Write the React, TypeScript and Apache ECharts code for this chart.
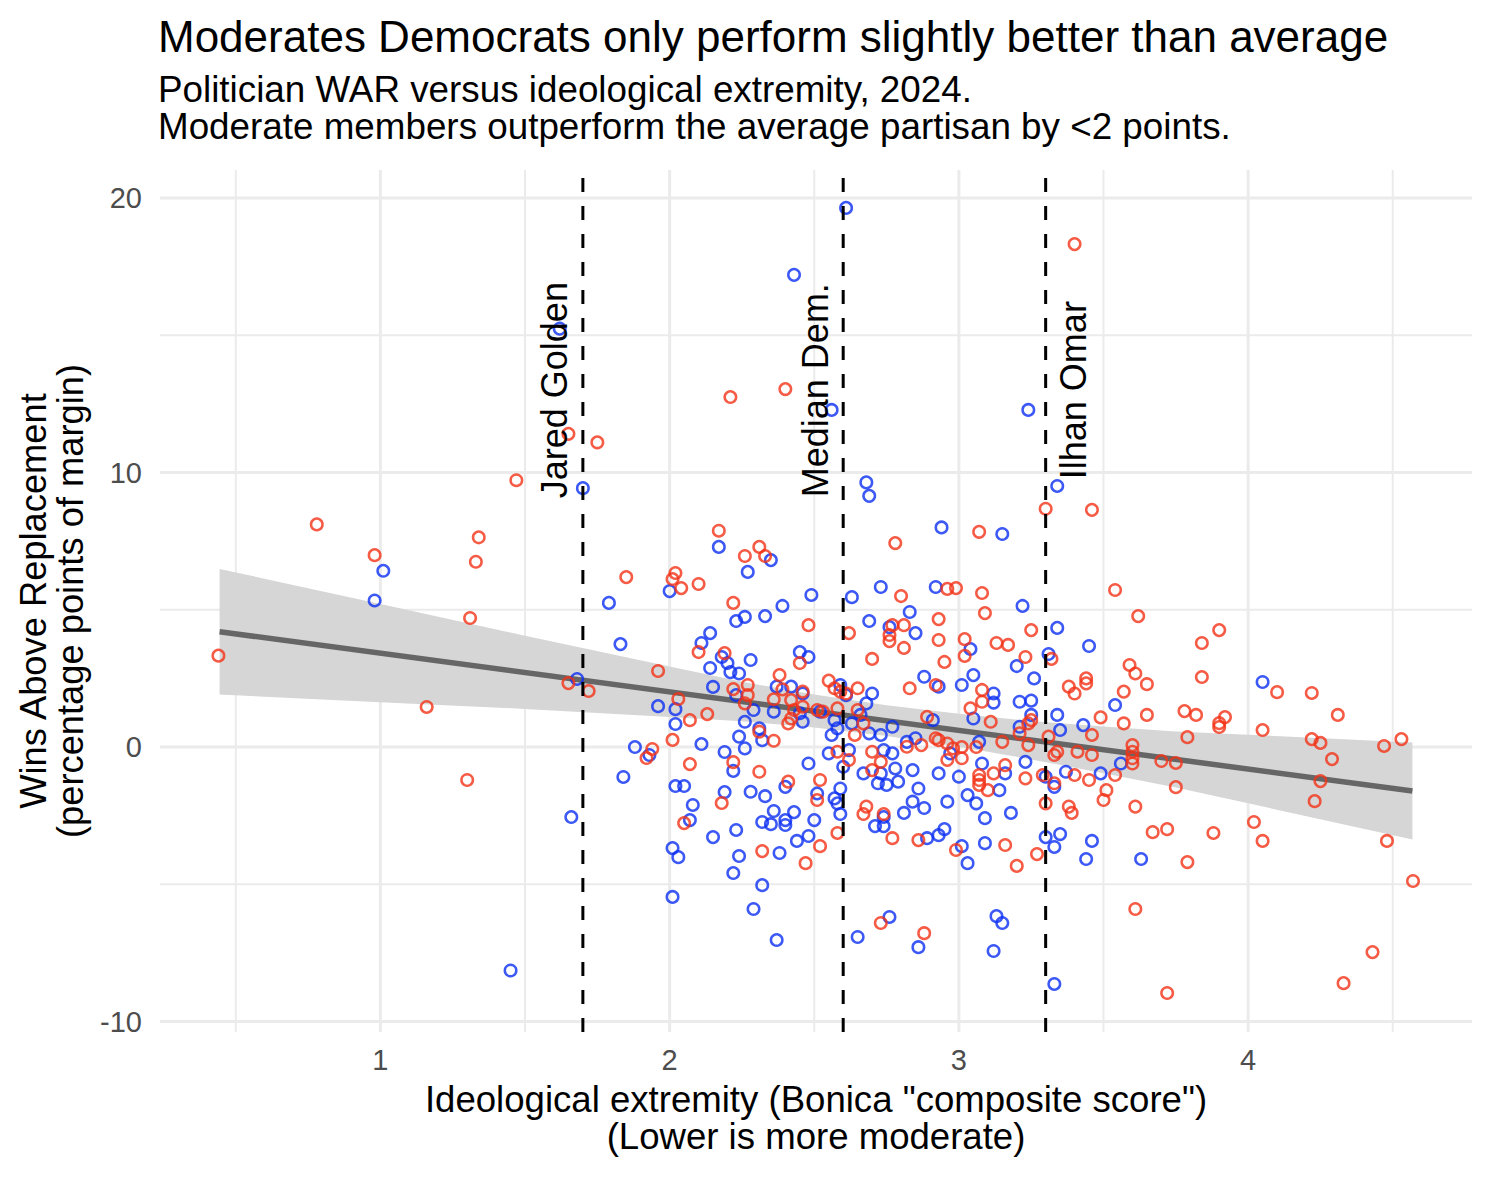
import React, { useEffect, useRef } from "react";
import * as echarts from "echarts";

const FONT = '"Liberation Sans", Arial, Helvetica, sans-serif';
const DEM_COLOR = "#0d30f2";
const REP_COLOR = "#f23216";

const X_MIN = 0.238;
const X_MAX = 4.774;
const Y_MIN = -10.38;
const Y_MAX = 21.02;

const xTickValues = [1, 2, 3, 4];
const xMinorValues = [0.5, 1.5, 2.5, 3.5, 4.5];
const yTickValues = [-10, 0, 10, 20];
const yMinorValues = [-5, 5, 15];

const titleText = "Moderates Democrats only perform slightly better than average";
const subtitleLines = [
  "Politician WAR versus ideological extremity, 2024.",
  "Moderate members outperform the average partisan by <2 points.",
];
const xTitleLines = ['Ideological extremity (Bonica "composite score")', "(Lower is more moderate)"];
const yTitleLines = ["Wins Above Replacement", "(percentage points of margin)"];

const refLineX = [1.7, 2.6, 3.3];
const refLineLabels = ["Jared Golden", "Median Dem.", "Ilhan Omar"];
const refLabelSide = [-1, -1, 1];
const refLabelY = 13;

// linear fit
const regX = [0.444, 4.568];
const regY = [4.2, -1.6];

// confidence band
const bandX = [0.444, 1.0, 1.5, 2.0, 2.25, 2.5, 2.75, 3.0, 3.25, 3.5, 3.75, 4.0, 4.568];
const bandUpper = [6.49, 5.21, 4.05, 2.93, 2.38, 1.91, 1.52, 1.21, 0.95, 0.75, 0.57, 0.45, 0.17];
const bandLower = [1.91, 1.63, 1.39, 1.09, 0.94, 0.71, 0.40, 0.01, -0.45, -0.95, -1.47, -2.05, -3.37];

const demPoints = [
  [2.17,7.29],[2.35,6.81],[2.27,6.38],[2.00,5.68],[1.79,5.25],[2.49,5.54],[2.63,5.46],[2.39,5.14],[2.26,4.74],[2.23,4.59],[2.33,4.77],[2.14,4.15],[2.11,3.79],[1.83,3.75],[2.18,3.28],[2.28,3.17],[2.45,3.46],[2.48,3.28],[2.20,3.06],[2.14,2.88],[2.21,2.73],[1.68,2.48],[2.15,2.19],[2.23,1.89],[1.96,1.49],[2.02,1.38],[2.02,0.84],[1.88,0.00],[1.93,-0.29],[2.11,0.11],[2.19,-0.18],
  [2.22,-0.87],[1.84,-1.09],[1.66,-2.55],[2.02,-1.42],[2.05,-1.42],[2.19,-1.64],[2.08,-2.11],[2.07,-2.66],[2.59,-2.44],[2.36,-2.33],[2.43,-2.37],[2.32,-2.73],[2.35,-2.81],[2.40,-2.66],[2.40,-2.84],[2.50,-2.66],[2.15,-3.28],[2.23,-3.02],[2.48,-3.24],[2.44,-3.42],[2.38,-3.86],[2.01,-3.68],[2.03,-4.01],[2.24,-3.97],[2.22,-4.59],[2.32,-5.03],[2.01,-5.46],[2.29,-5.90],[2.37,-7.03],[2.65,-6.92],
  [2.73,5.83],[2.92,5.83],[2.83,4.92],[3.22,5.14],[2.69,4.59],[2.76,4.37],[2.85,4.15],[3.34,4.34],[3.45,3.68],[3.04,3.57],[3.31,3.39],[3.20,2.95],
  [2.88,-2.22],[2.81,-2.40],[2.74,-2.55],[2.71,-2.88],[2.74,-2.88],[2.89,-3.32],[2.93,-3.21],[2.95,-2.99],[3.09,-2.59],[3.18,-2.40],[3.30,-3.28],[3.35,-3.17],[3.33,-3.64],[3.46,-3.42],[3.44,-4.08],[3.63,-4.08],[3.01,-3.61],[3.03,-4.23],[3.09,-3.50],[2.76,-6.19],[3.13,-6.16],[3.15,-6.41],[3.12,-7.43],[3.33,-8.63],[2.86,-7.29],
  [4.05,2.37],
  [2.61,19.64],[2.43,17.20],[1.62,15.24],[2.56,12.28],[3.24,12.28],[1.70,9.43],[2.68,9.64],[2.69,9.15],[3.34,9.51],[2.94,8.00],[3.15,7.76],
  [1.01,6.42],[0.98,5.34],[1.45,-8.14],
  [2.24,2.68],[2.29,1.35],[2.26,0.92],[2.24,0.38],[2.26,-0.05],[2.31,0.68],[2.32,0.25],[2.37,2.20],[2.42,2.20],[2.36,1.29],[2.46,1.95],[2.45,1.23],[2.46,0.92],[2.52,1.29],[2.59,2.26],[2.61,1.89],[2.70,1.95],[2.68,1.59],[2.66,1.17],[2.63,0.86],[2.57,0.98],[2.58,0.68],[2.56,0.44],[2.69,0.50],[2.73,0.44],[2.62,-0.11],[2.55,-0.23],[2.60,-0.72],[2.48,-0.60],[2.40,-1.45],[2.28,-1.63],[2.33,-1.79],[2.51,-1.69],[2.57,-1.87],[2.59,-1.51],[2.58,-2.05],[2.88,2.56],[2.93,2.20],[2.91,0.98],[2.77,0.74],[2.82,0.19],[2.85,0.32],[2.74,-0.11],[2.77,-0.23],[2.67,-0.96],[2.73,-0.96],[2.78,-0.78],[2.84,-0.84],[2.72,-1.32],[2.75,-1.38],[2.79,-1.26],[2.86,-1.51],[2.93,-0.96],[2.84,-1.99],
  [3.05,2.62],[3.01,2.26],[3.26,2.50],[3.12,1.95],[3.12,1.62],[3.05,1.04],[3.21,1.65],[3.25,1.69],[3.25,1.17],[3.21,0.74],[3.34,1.17],[3.35,0.62],[3.43,0.80],[3.54,1.53],[2.97,-0.23],[3.07,0.19],[3.00,-1.08],[3.08,-0.60],[3.16,-0.96],[3.14,-1.57],[3.03,-1.75],[3.06,-2.05],[2.96,-1.99],[3.23,-0.54],[3.30,-1.08],[3.33,-1.45],[3.37,-0.90],[3.49,-0.96],[3.56,-0.60],
];

const repPoints = [
  [2.31,7.29],[2.26,6.96],[2.33,6.96],[1.85,6.19],[2.02,6.34],[2.01,6.12],[2.04,5.79],[2.10,5.94],[2.22,5.25],[2.48,4.44],[2.62,4.15],[2.10,3.46],[2.19,3.42],[2.45,3.06],[1.96,2.77],[1.65,2.33],[1.72,2.04],[2.22,2.11],[2.03,1.75],[2.07,0.98],[2.13,1.20],[1.94,-0.07],[1.92,-0.40],[2.01,0.26],[2.07,-0.62],[2.22,-0.55],
  [2.18,-2.04],[2.05,-2.77],[2.58,-3.13],[2.52,-3.61],[2.32,-3.79],[2.47,-4.23],
  [2.78,7.43],[2.96,5.76],[2.99,5.79],[3.08,5.61],[2.80,5.50],[3.09,4.88],[3.62,4.77],[3.54,5.72],[2.77,4.44],[2.81,4.44],[2.76,4.08],[2.76,3.86],[2.93,4.66],[2.93,3.90],[2.81,3.61],[2.70,3.21],[2.95,3.10],[3.25,4.26],[3.02,3.93],[3.02,3.32],[3.13,3.79],[3.17,3.72],[3.23,3.28],[3.32,3.21],[3.59,2.99],
  [2.67,-2.44],[2.74,-2.44],[2.77,-3.32],[2.86,-3.39],[3.67,-3.10],[3.39,-2.40],[3.27,-3.90],[3.20,-4.33],[3.16,-3.57],[2.99,-3.75],[2.73,-6.41],[2.88,-6.78],[3.61,-5.90],
  [3.90,4.26],[3.84,3.79],[3.84,2.55],[3.78,1.31],[3.82,1.17],[3.92,1.09],[3.90,0.87],[3.90,0.73],[3.79,0.36],[4.10,2.00],[4.22,1.97],[4.31,1.17],[4.05,0.62],[4.22,0.29],[4.25,0.15],[4.29,-0.44],[4.47,0.04],[4.53,0.29],[3.70,-0.51],[3.75,-0.58],
  [3.75,-1.46],[4.25,-1.24],[4.23,-1.97],[3.72,-2.99],[3.88,-3.13],[3.79,-4.19],[4.02,-2.73],[4.05,-3.42],[4.48,-3.42],[4.57,-4.88],[4.43,-7.47],[4.33,-8.60],[3.72,-8.96],
  [3.40,18.32],[2.21,12.75],[2.40,13.04],[1.65,11.41],[1.75,11.10],[3.30,8.68],[3.46,8.64],[3.07,7.84],[2.17,7.88],
  [1.47,9.72],[0.78,8.11],[0.98,6.99],[1.34,7.64],[1.33,6.75],[1.31,4.70],[0.44,3.33],[1.16,1.46],[1.30,-1.20],
  [2.27,2.26],[2.27,1.89],[2.26,1.59],[2.31,0.56],[2.36,0.23],[2.38,2.62],[2.39,2.10],[2.36,1.74],[2.42,1.71],[2.46,2.02],[2.46,1.47],[2.42,1.04],[2.41,0.86],[2.43,1.35],[2.51,1.35],[2.53,1.29],[2.55,2.42],[2.57,2.14],[2.59,2.02],[2.61,1.95],[2.65,2.14],[2.58,1.41],[2.65,1.35],[2.67,0.86],[2.64,0.44],[2.58,-0.17],[2.62,-0.47],[2.52,-1.20],[2.31,-0.90],[2.41,-1.26],[2.51,-1.93],[2.83,2.14],[2.92,2.26],[2.89,1.10],[2.82,0.01],[2.87,0.07],[2.92,0.32],[2.93,0.25],[2.96,-0.47],[2.70,-0.17],[2.73,-0.54],[2.70,-0.84],[2.68,-2.17],
  [3.08,2.08],[3.08,1.65],[3.04,1.41],[3.11,0.92],[3.25,0.98],[3.24,0.86],[3.21,0.50],[3.15,0.19],[3.24,0.07],[3.31,0.38],[3.46,0.44],[3.49,1.08],[3.57,2.02],[3.57,0.86],[3.65,1.17],[3.38,2.20],[3.40,1.95],[3.44,2.50],[3.44,2.32],[3.61,2.68],[3.65,2.29],[2.96,0.13],[2.98,-0.05],[3.01,0.00],[3.01,-0.41],[3.06,0.00],[3.12,-0.96],[3.16,-0.66],[3.07,-1.02],[3.07,-1.20],[3.07,-1.38],[3.10,-1.57],[3.23,-1.14],[3.29,-1.02],[3.33,-1.32],[3.30,-2.05],[3.33,-0.29],[3.34,-0.17],[3.41,-0.17],[3.40,-1.02],[3.46,-0.29],[3.45,-1.20],[3.54,-1.02],[3.60,0.07],[3.60,-0.17],[3.60,-0.41],[3.60,-0.60],[3.51,-1.57],[3.50,-1.93],[3.38,-2.17],[3.61,-2.17],
];

function gridSeries(values: number[], horizontal: boolean, width: number) {
  return {
    type: "custom",
    coordinateSystem: "cartesian2d",
    silent: true,
    z: 0,
    data: values.map((v) => (horizontal ? [X_MIN, v] : [v, Y_MIN])),
    renderItem: (params: any, api: any) => {
      const cs = params.coordSys;
      const p = api.coord([api.value(0), api.value(1)]);
      const shape = horizontal
        ? { x1: cs.x, y1: p[1], x2: cs.x + cs.width, y2: p[1] }
        : { x1: p[0], y1: cs.y, x2: p[0], y2: cs.y + cs.height };
      return { type: "line", shape, style: { stroke: "#ebebeb", lineWidth: width } };
    },
  };
}

function textEl(text: string, x: number, y: number, fontSize: number, align: string, rotate = false) {
  return {
    type: "text",
    x,
    y,
    rotation: rotate ? Math.PI / 2 : 0,
    style: {
      text,
      fontFamily: FONT,
      fontSize,
      lineHeight: Math.round(fontSize * 0.98),
      fill: "#000",
      align,
      verticalAlign: "middle",
    },
  };
}

export default function App() {
  const ref = useRef<HTMLDivElement>(null);
  useEffect(() => {
    if (!ref.current) return;
    const chart = echarts.init(ref.current, null, { renderer: "svg" });
    const labelStyle = { fontFamily: FONT, fontSize: 29, color: "#4d4d4d" };
    const option: any = {
      animation: false,
      backgroundColor: "#ffffff",
      grid: { left: 160, right: 20, top: 170, bottom: 145, containLabel: false, outerBoundsMode: "none" },
      xAxis: {
        type: "value",
        min: X_MIN,
        max: X_MAX,
        axisLine: { show: false },
        axisTick: { show: false },
        splitLine: { show: false },
        axisLabel: { ...labelStyle, margin: 13, customValues: xTickValues },
      },
      yAxis: {
        type: "value",
        min: Y_MIN,
        max: Y_MAX,
        axisLine: { show: false },
        axisTick: { show: false },
        splitLine: { show: false },
        axisLabel: { ...labelStyle, margin: 18, customValues: yTickValues },
      },
      graphic: [
        textEl(titleText, 158, 36, 44, "left"),
        textEl(subtitleLines[0], 158, 89.5, 36.8, "left"),
        textEl(subtitleLines[1], 158, 126.5, 36.8, "left"),
        textEl(xTitleLines[0], 816, 1099, 36.6, "center"),
        textEl(xTitleLines[1], 816, 1136, 36.6, "center"),
        textEl(yTitleLines[0], 33.5, 601, 36.3, "center", true),
        textEl(yTitleLines[1], 70.5, 601, 36.3, "center", true),
      ],
      series: [
        gridSeries(xMinorValues, false, 2),
        gridSeries(yMinorValues, true, 2),
        gridSeries(xTickValues, false, 3),
        gridSeries(yTickValues, true, 3),
        {
          type: "custom",
          coordinateSystem: "cartesian2d",
          silent: true,
          z: 1,
          data: [[bandX[0], bandUpper[0]]],
          renderItem: (params: any, api: any) => {
            const pts: number[][] = [];
            bandX.forEach((x, i) => pts.push(api.coord([x, bandUpper[i]])));
            for (let i = bandX.length - 1; i >= 0; i--) pts.push(api.coord([bandX[i], bandLower[i]]));
            return { type: "polygon", shape: { points: pts }, style: { fill: "#d6d6d6" } };
          },
        },
        {
          type: "line",
          silent: true,
          z: 2,
          symbol: "none",
          data: regX.map((x, i) => [x, regY[i]]),
          lineStyle: { color: "#666666", width: 5.5 },
        },
        {
          type: "scatter",
          name: "Democrats",
          z: 3,
          symbol: "circle",
          symbolSize: 11.5,
          data: demPoints,
          itemStyle: { color: "rgba(0,0,0,0)", borderColor: DEM_COLOR, borderWidth: 2.5 },
        },
        {
          type: "scatter",
          name: "Republicans",
          z: 3,
          symbol: "circle",
          symbolSize: 11.5,
          data: repPoints,
          itemStyle: { color: "rgba(0,0,0,0)", borderColor: REP_COLOR, borderWidth: 2.5 },
        },
        {
          type: "custom",
          coordinateSystem: "cartesian2d",
          silent: true,
          z: 4,
          data: refLineX.map((x) => [x, refLabelY]),
          renderItem: (params: any, api: any) => {
            const cs = params.coordSys;
            const p = api.coord([api.value(0), api.value(1)]);
            return {
              type: "line",
              shape: { x1: p[0], y1: cs.y + cs.height, x2: p[0], y2: cs.y },
              style: { stroke: "#000000", lineWidth: 3, lineDash: [14, 14] },
            };
          },
        },
        {
          type: "custom",
          coordinateSystem: "cartesian2d",
          silent: true,
          z: 5,
          data: refLineX.map((x) => [x, refLabelY]),
          renderItem: (params: any, api: any) => {
            const p = api.coord([api.value(0), api.value(1)]);
            const i = params.dataIndex;
            return {
              type: "text",
              x: p[0] + refLabelSide[i] * 28,
              y: p[1],
              rotation: Math.PI / 2,
              style: {
                text: refLineLabels[i],
                fontFamily: FONT,
                fontSize: 36,
                fill: "#000000",
                align: "center",
                verticalAlign: "middle",
              },
            };
          },
        },
      ],
    };
    chart.setOption(option);
    return () => chart.dispose();
  }, []);
  return (
    <div
      ref={ref}
      style={{ position: "absolute", left: 0, top: 0, width: 1492, height: 1177, background: "#fff" }}
    />
  );
}
